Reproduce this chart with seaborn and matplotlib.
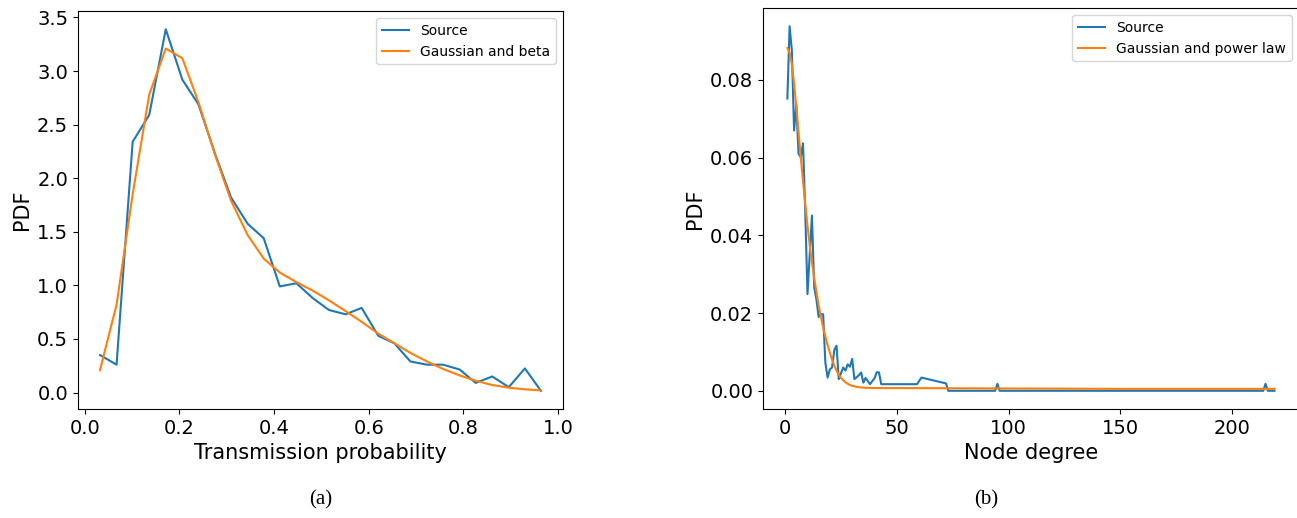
import numpy as np
import pandas as pd
import matplotlib
matplotlib.use('Agg')
import matplotlib.pyplot as plt
import seaborn as sns

# (a) transmission probability
prob_x = [0.032, 0.067, 0.101, 0.136, 0.171, 0.206, 0.240, 0.275, 0.309, 0.344,
          0.378, 0.412, 0.447, 0.482, 0.516, 0.551, 0.585, 0.620, 0.654, 0.688,
          0.723, 0.757, 0.792, 0.826, 0.861, 0.896, 0.930, 0.964]
prob_source = [0.35, 0.26, 2.34, 2.59, 3.39, 2.92, 2.69, 2.23, 1.82, 1.575,
               1.44, 0.99, 1.02, 0.88, 0.77, 0.73, 0.79, 0.53, 0.46, 0.29,
               0.26, 0.26, 0.215, 0.09, 0.15, 0.05, 0.225, 0.015]
prob_fit = [0.21, 0.82, 1.85, 2.78, 3.21, 3.12, 2.71, 2.22, 1.79, 1.47,
            1.25, 1.12, 1.03, 0.95, 0.86, 0.76, 0.66, 0.55, 0.46, 0.37,
            0.29, 0.22, 0.16, 0.11, 0.07, 0.045, 0.03, 0.02]

# (b) node degree
deg_x = list(range(1, 44)) + [59, 61, 72, 73, 94, 95, 96, 214, 215, 216, 219]
deg_source = [0.0752, 0.0938, 0.0876, 0.0670, 0.0736, 0.0610, 0.0601, 0.0637, 0.0460, 0.0249,
              0.0350, 0.0451, 0.0266, 0.0235, 0.0190, 0.0197, 0.0197, 0.0072, 0.0034, 0.0055,
              0.0060, 0.0105, 0.0116, 0.0030, 0.0045, 0.0060, 0.0052, 0.0068, 0.0062, 0.0082,
              0.0030, 0.0035, 0.0040, 0.0047, 0.0021, 0.0033, 0.0025, 0.0017, 0.0025, 0.0032,
              0.0048, 0.0047, 0.0017,
              0.0017, 0.0034, 0.0019, 0.0, 0.0, 0.0018, 0.0, 0.0, 0.0018, 0.0, 0.0]
fit_x = list(range(1, 31)) + [32, 35, 40, 50, 100, 150, 219]
deg_fit = [0.0882, 0.0870, 0.0840, 0.0790, 0.0730, 0.0665, 0.0600, 0.0540, 0.0480, 0.0425,
           0.0375, 0.0330, 0.0290, 0.0255, 0.0220, 0.0190, 0.0163, 0.0140, 0.0118, 0.0098,
           0.0080, 0.0065, 0.0052, 0.0041, 0.0033, 0.0027, 0.0022, 0.0018, 0.0015, 0.0013,
           0.0010, 0.0008, 0.0007, 0.0007, 0.0006, 0.0005, 0.0005]

fig = plt.figure(figsize=(12.97, 5.18), dpi=100)
ax1 = fig.add_axes([0.0601, 0.2104, 0.374, 0.768])
ax2 = fig.add_axes([0.5883, 0.2104, 0.4131, 0.774])  # right edge is cut off in the original

sns.lineplot(x=prob_x, y=prob_source, ax=ax1, label='Source', color='#1f77b4')
sns.lineplot(x=prob_x, y=prob_fit, ax=ax1, label='Gaussian and beta', color='#ff7f0e')
ax1.set_xlabel('Transmission probability', fontsize=15)
ax1.set_ylabel('PDF', fontsize=15)
ax1.tick_params(labelsize=14)
ax1.legend(loc='upper right', fontsize=10)

sns.lineplot(x=deg_x, y=deg_source, ax=ax2, label='Source', color='#1f77b4')
sns.lineplot(x=fit_x, y=deg_fit, ax=ax2, label='Gaussian and power law', color='#ff7f0e')
ax2.set_xlabel('Node degree', fontsize=15)
ax2.set_ylabel('PDF', fontsize=15)
ax2.tick_params(labelsize=14)
ax2.set_yticks([0.0, 0.02, 0.04, 0.06, 0.08])
ax2.legend(loc='upper right', fontsize=10)

fig.text(0.247, 0.035, '(a)', ha='center', va='center', fontsize=15, family='Liberation Serif')
fig.text(0.760, 0.035, '(b)', ha='center', va='center', fontsize=15, family='Liberation Serif')

fig.savefig('out.png', dpi=100)
